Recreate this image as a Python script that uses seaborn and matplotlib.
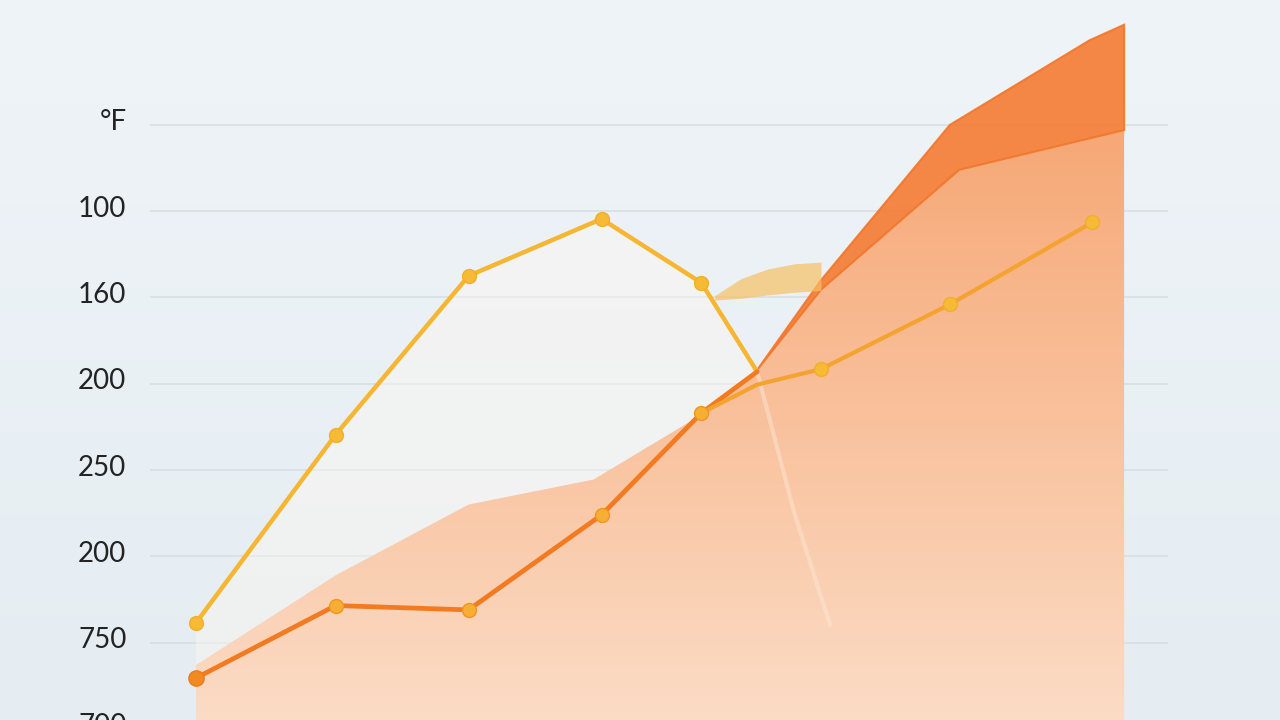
import numpy as np
import matplotlib
matplotlib.use("Agg")
import matplotlib.pyplot as plt
import seaborn as sns
from matplotlib.colors import LinearSegmentedColormap
from matplotlib.patches import Polygon
from matplotlib.transforms import ScaledTranslation

# tick labels as printed on the chart (bottom to top)
tick_labels = ["700", "750", "200", "250", "200", "160", "100", "°F"]
tick_levels = [0, 1, 2, 3, 4, 5, 6, 7]

# yellow series
yellow_x = [0, 1.05, 2.05, 3.05, 3.8, 4.22]
yellow_y = [1.23, 3.41, 5.25, 5.91, 5.17, 4.14]
yellow_ghost_x = [4.22, 4.5, 4.77]
yellow_ghost_y = [4.14, 2.5, 1.2]

# dark orange series
orange_x = [0, 1.05, 2.05, 3.05, 3.8, 4.22]
orange_y = [0.59, 1.43, 1.38, 2.48, 3.66, 4.14]

# amber series continuing to the right
amber_x = [3.8, 4.22, 4.7, 5.67, 6.74]
amber_y = [3.66, 3.99, 4.17, 4.92, 5.87]
amber_marks = 2  # first marked point index

# peach area top edge
peach_x = [0, 1.05, 2.05, 2.99, 3.8, 4.22, 4.7, 5.74, 6.98]
peach_y = [0.74, 1.78, 2.6, 2.89, 3.64, 4.16, 5.09, 6.48, 6.94]

# dark orange band top edge
band_x = [4.22, 4.7, 5.67, 6.72, 6.98]
band_y = [4.16, 5.2, 7.0, 7.98, 8.16]

# little ribbon near the peak
ribbon_x = [3.9, 4.1, 4.3, 4.5, 4.7]
ribbon_hi = [5.02, 5.22, 5.33, 5.39, 5.41]
ribbon_lo = [4.97, 4.99, 5.03, 5.06, 5.08]

sns.set_theme(style="white")
plt.rcParams["font.family"] = ["Lato", "DejaVu Sans"]

fig = plt.figure(figsize=(12.8, 7.2), dpi=100)
fig.patch.set_facecolor("#EAF0F5")

# background gradient
bg = fig.add_axes([0, 0, 1, 1], zorder=-5)
bg.imshow(np.linspace(0, 1, 256).reshape(-1, 1),
          cmap=LinearSegmentedColormap.from_list("bg", ["#EFF4F8", "#E5EDF2"]),
          aspect="auto", extent=[0, 1, 0, 1])
bg.axis("off")

ax = fig.add_axes([150 / 1280, -0.05, 1018 / 1280, 1.05])
ax.patch.set_alpha(0)

ax.set_yticks(tick_levels)
ax.set_yticklabels(tick_labels)
ax.set_xticks([])
ax.tick_params(axis="y", length=0, pad=17, labelsize=20, labelcolor="#232323")
for lab in ax.get_yticklabels():
    lab.set_transform(lab.get_transform() + ScaledTranslation(0, 5 / 100, fig.dpi_scale_trans))
ax.grid(axis="y", color="#D8DEE3", linewidth=1.2)
ax.set_axisbelow(True)
sns.despine(ax=ax, left=True, bottom=True)

# whitish area under the yellow curve
ghost_poly = list(zip(yellow_x, yellow_y)) + list(zip(peach_x[:6], peach_y[:6]))[::-1]
ax.add_patch(Polygon(ghost_poly, closed=True, facecolor="#FCF6F0", alpha=0.45,
                     edgecolor="none", zorder=1))

# peach area with vertical gradient
floor = -1
peach_poly = [(peach_x[0], floor)] + list(zip(peach_x, peach_y)) + [(peach_x[-1], floor)]
patch = Polygon(peach_poly, closed=True, facecolor="none", edgecolor="none")
ax.add_patch(patch)
grad = ax.imshow(np.linspace(0, 1, 256).reshape(-1, 1),
                 cmap=LinearSegmentedColormap.from_list("peach", ["#F6A673", "#FCE4D2"]),
                 aspect="auto", extent=[peach_x[0], peach_x[-1], floor, 7.2],
                 origin="upper", zorder=2)
grad.set_clip_path(patch)

# dark orange band
band_poly = list(zip(band_x, band_y)) + list(zip(peach_x[5:], peach_y[5:]))[::-1]
ax.add_patch(Polygon(band_poly, closed=True, facecolor="#F57B32", alpha=0.9,
                     edgecolor="#F3762A", linewidth=1.5, zorder=3))

# ribbon
ax.fill_between(ribbon_x, ribbon_lo, ribbon_hi, color="#F6C064", alpha=0.7,
                linewidth=0, zorder=4)

# lines
sns.lineplot(x=yellow_ghost_x, y=yellow_ghost_y, ax=ax, color="#FCE6D2", linewidth=3,
             alpha=0.5, sort=False, zorder=5)
sns.lineplot(x=yellow_x, y=yellow_y, ax=ax, color="#F6B632", linewidth=3.2, sort=False, zorder=6)
sns.lineplot(x=orange_x, y=orange_y, ax=ax, color="#F27A20", linewidth=3.4, sort=False, zorder=6)
sns.lineplot(x=amber_x, y=amber_y, ax=ax, color="#F4A330", linewidth=3.0, sort=False, zorder=6)

# markers
ax.plot(yellow_x[:5], yellow_y[:5], "o", markersize=10, color="#F7BA35",
        markeredgecolor="#F2AE2C", zorder=7)
ax.plot(orange_x[:1], orange_y[:1], "o", markersize=11, color="#F28A24",
        markeredgecolor="#EE7A1E", zorder=7)
ax.plot(orange_x[1:5], orange_y[1:5], "o", markersize=10, color="#F6AE34",
        markeredgecolor="#F1961F", zorder=7)
ax.plot(amber_x[amber_marks:], amber_y[amber_marks:], "o", markersize=10, color="#F7BA35",
        markeredgecolor="#F2AE2C", zorder=7)

ax.set_xlim(-0.346, 7.31)
ax.set_ylim(0.104 - 36 / 86.3, 8.447)

fig.savefig("out.png", dpi=100, facecolor=fig.get_facecolor())
